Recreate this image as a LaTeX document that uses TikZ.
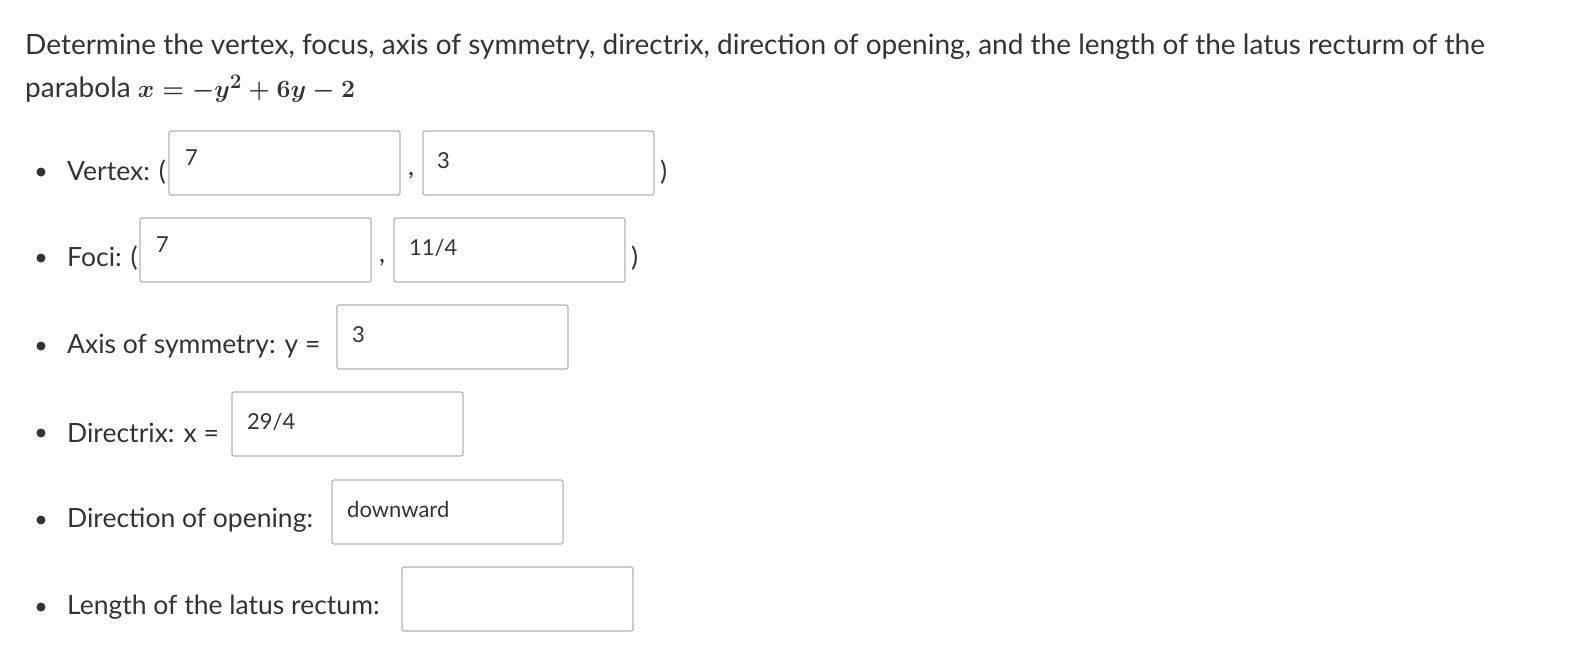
\documentclass[tikz,border=0pt]{standalone}
\usepackage{fontspec}
\usepackage{amsmath}
\setmainfont{Lato}
\begin{document}
\begin{tikzpicture}[x=1pt,y=-1pt,
  txt/.style={anchor=west,inner sep=0pt,font=\fontsize{26.5}{30}\selectfont,text=black!80},
  ttl/.style={anchor=west,inner sep=0pt,font=\fontsize{28}{32}\selectfont,text=black!80},
  val/.style={anchor=north west,inner sep=0pt,font=\fontsize{22}{26}\selectfont,text=black!80},
  inbox/.style={draw=black!30,line width=1.2pt,rounded corners=2pt},
  bul/.style={fill=black!80,circle,inner sep=0pt,minimum size=9pt}]
\useasboundingbox (0,0) rectangle (1580,664);
\node[ttl] (t1) at (25,47) {Determine the vertex, focus, axis of symmetry, directrix, direction of opening, and the length of the latus recturm of the};
\node[ttl] (t2) at (25,89) {parabola $\boldsymbol{x=-y^2+6y-2}$};
% Vertex
\node[bul] (b1) at (41,172) {};
\node[txt] (l1) at (67,172) {Vertex: (};
\draw[inbox] (169,131) rectangle (400,195);
\draw[inbox] (423,131) rectangle (654,195);
\node[val] (v1) at (185,150) {7};
\node[txt] (c1) at (408,176) {,};
\node[val] (v2) at (437,152) {3};
\node[txt] (p1) at (660,172) {)};
% Foci
\node[bul] (b2) at (41,258) {};
\node[txt] (l2) at (67,258) {Foci: (};
\draw[inbox] (140,218) rectangle (371,282);
\draw[inbox] (394,218) rectangle (625,282);
\node[val] (v3) at (156,237) {7};
\node[txt] (c2) at (379,263) {,};
\node[val] (v4) at (409,239) {11/4};
\node[txt] (p2) at (631,258) {)};
% Axis
\node[bul] (b3) at (41,346) {};
\node[txt] (l3) at (67,346) {Axis of symmetry: y =};
\draw[inbox] (337,305) rectangle (568,369);
\node[val] (v5) at (352,326) {3};
% Directrix
\node[bul] (b4) at (41,433) {};
\node[txt] (l4) at (67,433) {Directrix: x =};
\draw[inbox] (232,392) rectangle (463,456);
\node[val] (v6) at (247,413) {29/4};
% Direction
\node[bul] (b5) at (41,520) {};
\node[txt] (l5) at (67,520) {Direction of opening:};
\draw[inbox] (332,480) rectangle (563,544);
\node[val] (v7) at (347,501) {downward};
% Latus
\node[bul] (b6) at (41,607) {};
\node[txt] (l6) at (67,607) {Length of the latus rectum:};
\draw[inbox] (402,567) rectangle (633,631);
\end{tikzpicture}
\end{document}
